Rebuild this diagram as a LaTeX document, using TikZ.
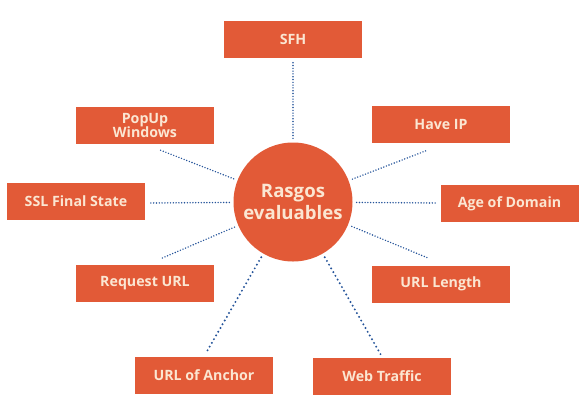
\documentclass[tikz,border=0pt]{standalone}
\usepackage{fontspec}
\setmainfont{Open Sans}
\definecolor{boxor}{HTML}{E25A37}
\definecolor{txtc}{HTML}{FBE6D2}
\definecolor{dotb}{HTML}{25549A}
\begin{document}
\begin{tikzpicture}[x=1pt,y=-1pt,
  box/.style={fill=boxor,text=txtc,minimum width=138pt,minimum height=37pt,inner sep=0pt,align=center,font=\bfseries\fontsize{14.2}{14.2}\selectfont},
  hub/.style={circle,fill=boxor,text=txtc,minimum size=119pt,inner sep=0pt,align=center,font=\bfseries\fontsize{18.6}{22}\selectfont},
  conn/.style={dotb,line width=1.6pt,line cap=round,dash pattern=on 0pt off 2.8pt,shorten <=4pt},
  connb/.style={dotb,line width=2.2pt,line cap=round,dash pattern=on 0pt off 4.3pt,shorten <=4pt}]
\useasboundingbox (0,0) rectangle (584,408);
\node[hub] (c) at (293,202) {Rasgos\\evaluables};
\node[box] (sfh) at (293,39) {SFH};
\node[box,font=\bfseries\fontsize{14.2}{14.5}\selectfont] (pop) at (145,125.5) {PopUp\\Windows};
\node[box] (ssl) at (76,201.5) {SSL Final State};
\node[box] (ip) at (441,124.5) {Have IP};
\node[box] (age) at (509.5,203.5) {Age of Domain};
\node[box] (len) at (441,284) {URL Length};
\node[box] (req) at (145,283.5) {Request URL};
\node[box] (anc) at (204,375.5) {URL of Anchor};
\node[box] (web) at (382,376) {Web Traffic};
\coordinate (esfh) at (293,60);
\coordinate (epop) at (160,150);
\coordinate (essl) at (150,203);
\coordinate (eip) at (428,150);
\coordinate (eage) at (437,203);
\coordinate (elen) at (428,258);
\coordinate (ereq) at (160,259);
\coordinate (eanc) at (206,353);
\coordinate (eweb) at (381,355);
\draw[conn] (c) -- (esfh);
\draw[conn] (c) -- (epop);
\draw[conn] (c) -- (essl);
\draw[conn] (c) -- (eip);
\draw[conn] (c) -- (eage);
\draw[conn] (c) -- (elen);
\draw[conn] (c) -- (ereq);
\draw[connb] (c) -- (eanc);
\draw[connb] (c) -- (eweb);
\end{tikzpicture}
\end{document}
